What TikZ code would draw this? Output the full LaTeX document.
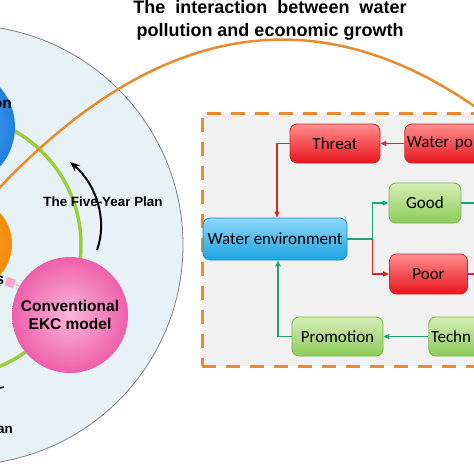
\documentclass[tikz,border=0pt]{standalone}
\usepackage{fontspec}
\setmainfont{Liberation Sans}
\newfontfamily\boxfont{Carlito}
\usepackage{tikz}
\usetikzlibrary{arrows.meta, positioning, shapes.geometric}
\definecolor{bgblue}{RGB}{231, 242, 247}
\definecolor{ringgreen}{RGB}{156, 203, 63}
\definecolor{arcorange}{RGB}{233, 138, 46}
\definecolor{framegray}{RGB}{241, 241, 241}
\definecolor{redtop}{RGB}{255, 142, 142}
\definecolor{redbot}{RGB}{232, 20, 28}
\definecolor{redline}{RGB}{200, 40, 46}
\definecolor{greentop}{RGB}{213, 237, 181}
\definecolor{greenbot}{RGB}{141, 203, 90}
\definecolor{greenline}{RGB}{120, 184, 74}
\definecolor{bluetop}{RGB}{142, 216, 248}
\definecolor{bluebot}{RGB}{28, 163, 226}
\definecolor{blueline}{RGB}{27, 143, 201}
\definecolor{arrowred}{RGB}{220, 36, 48}
\definecolor{arrowteal}{RGB}{30, 165, 122}
\definecolor{blueinner}{RGB}{110, 185, 250}
\definecolor{blueouter}{RGB}{30, 127, 224}
\definecolor{orangeinner}{RGB}{255, 176, 74}
\definecolor{orangeouter}{RGB}{245, 138, 7}
\definecolor{pinkinner}{RGB}{250, 182, 218}
\definecolor{pinkouter}{RGB}{238, 95, 170}
\definecolor{pinkptr}{RGB}{246, 168, 206}

\begin{document}
\begin{tikzpicture}[x=1pt, y=-1pt,
    flowbox/.style={draw, rounded corners=7pt, line width=0.8pt, minimum height=39pt, inner sep=2pt, text=black, font=\boxfont\fontsize{17}{20}\selectfont},
    redbox/.style={flowbox, draw=redline, top color=redtop, bottom color=redbot},
    greenbox/.style={flowbox, draw=greenline, top color=greentop, bottom color=greenbot},
    bluebox/.style={flowbox, draw=blueline, top color=bluetop, bottom color=bluebot},
    ball/.style={circle, inner sep=0pt, font=\bfseries\fontsize{15.5}{18}\selectfont, align=center},
    lbl/.style={inner sep=0pt, font=\bfseries\fontsize{15.5}{18}\selectfont},
    plantext/.style={inner sep=0pt, font=\bfseries\fontsize{13.4}{16}\selectfont},
    frame/.style={draw=arcorange, dash pattern=on 14pt off 10pt, line width=2.5pt, fill=framegray, inner sep=0pt},
    redarrow/.style={-{Triangle[length=6pt, width=5pt]}, line width=1.3pt, arrowred},
    tealarrow/.style={-{Triangle[length=6pt, width=5pt]}, line width=1.3pt, arrowteal}
]
    \path[use as bounding box] (0,0) rectangle (474,474);
    \clip (0,0) rectangle (474,474);

    % Background circle and ring
    \draw[fill=bgblue, draw=gray, line width=0.8pt] (-37,245) circle[radius=220];
    \draw[ringgreen, line width=3.5pt] (-50,245) circle[radius=131];

    % Frame
    \node[frame, anchor=north west, minimum width=279pt, minimum height=253pt] (frame) at (201,112) {};

    % Title and big arc
    \node[anchor=north, inner sep=0pt, align=center, font=\bfseries\fontsize{18}{23}\selectfont] (title) at (270,0)
        {The\ \ interaction\ \ between\ \ water\\pollution and economic growth};
    \coordinate (arcstart) at (-10,198);
    \draw[arcorange, line width=2.5pt] (arcstart) .. controls (153,20) and (317,-7) .. (frame.north east);

    % Five-Year Plan arrow
    \coordinate (planfrom) at (97,250);
    \coordinate (planto) at (70,162);
    \draw[-{Stealth[length=10pt, width=8pt]}, line width=2pt] (planfrom) .. controls (108,220) and (96,184) .. (planto);
    \node[plantext, anchor=base] (plan) at (103,206) {The Five-Year Plan};
    \node[plantext, anchor=base east] (plantail) at (13,433) {an};
    \coordinate (dashfrom) at (-4,389);
    \coordinate (dashto) at (4,387);
    \draw[line width=1.5pt] (dashfrom) -- (dashto);

    % Nodes - circles
    \node[ball, minimum size=120pt, inner color=blueinner, outer color=blueouter] (urban) at (-45,127) {};
    \node[ball, minimum size=92pt, inner color=orangeinner, outer color=orangeouter] (indus) at (-34,244) {};
    \node[ball, minimum size=116pt, inner color=pinkinner, outer color=pinkouter] (ekc) at (70,315) {Conventional\\EKC model};
    \node[lbl, anchor=base east] (urbantxt) at (12,108) {on};
    \node[lbl, anchor=base east] (industxt) at (4.5,284) {s};
    \coordinate (ptrtip) at (6,281);
    \draw[pinkptr, line width=1pt, -{Square[length=9pt, width=9pt]}] (ekc.150) -- (ptrtip);

    % Nodes - top row
    \node[redbox, minimum width=90pt] (threat) at (335,143.5) {Threat};
    \node[redbox, text width=124pt, align=left, right=24pt of threat] (wpol) {Water po};

    % Nodes - middle rows
    \node[bluebox, minimum width=144pt, minimum height=42pt] (wenv) at (275,239) {Water environment};
    \node[greenbox, minimum width=72pt, minimum height=40pt] (good) at (425,203) {Good};
    \node[redbox, minimum width=78pt, minimum height=40pt] (poor) at (428.5,274) {Poor};

    % Nodes - bottom row
    \node[greenbox, minimum width=91pt] (promo) at (337.5,336.5) {Promotion};
    \node[greenbox, text width=100pt, align=left, right=45pt of promo] (techn) {Techn};

    % Arrows
    \coordinate (split) at ([xshift=25pt]wenv.east);
    \coordinate (goodout) at (485,203);
    \coordinate (poorout) at (485,274);
    \draw[redarrow] (wpol) -- (threat);
    \draw[redarrow] (threat.west) -| ([xshift=2pt]wenv.north);
    \draw[arrowteal, line width=1.3pt] (wenv.east) -- (split);
    \draw[tealarrow] (split) |- (good.west);
    \draw[redarrow] (split) |- (poor.west);
    \draw[arrowteal, line width=1.3pt] (good.east) -- (goodout);
    \draw[arrowred, line width=1.3pt] (poor.east) -- (poorout);
    \draw[tealarrow] (techn) -- (promo);
    \draw[tealarrow] (promo.west) -| ([xshift=3pt]wenv.south);
\end{tikzpicture}
\end{document}
